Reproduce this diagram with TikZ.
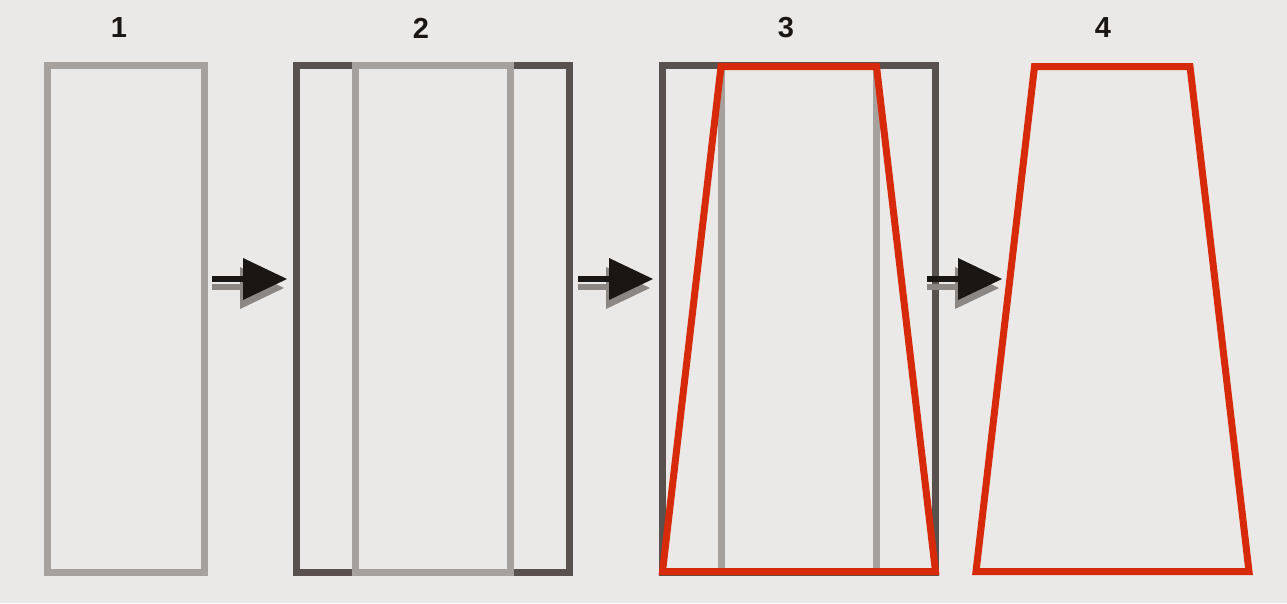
\documentclass[tikz,border=0pt]{standalone}
\usepackage{fontspec}
\setmainfont{Liberation Sans}
\definecolor{bg}{RGB}{235,233,231}
\definecolor{lightframe}{RGB}{166,161,157}
\definecolor{darkframe}{RGB}{88,81,77}
\definecolor{cutred}{RGB}{214,42,10}
\definecolor{arrowshadow}{RGB}{140,135,131}
\definecolor{ink}{RGB}{26,22,20}
\tikzset{every picture/.style = {x=1pt, y=-1pt}}
\tikzset{light/.style = {draw=lightframe, line width=7}}
\tikzset{dark/.style = {draw=darkframe, line width=7}}
\tikzset{cut/.style = {draw=cutred, line width=7}}
\tikzset{num/.style = {text=ink, font=\bfseries\fontsize{29}{29}\selectfont}}
\tikzset{shaft/.style = {line width=6.5}}
\newcommand{\steparrow}[1]{%
  \begin{scope}[shift={(#1)}]
    \draw[arrowshadow, shaft] (0, 8) -- (33, 8);
    \fill[arrowshadow] (28, -12) -- (72, 9) -- (28, 30) -- cycle;
    \draw[ink, shaft] (0, 0) -- (36, 0);
    \fill[ink] (31, -21) -- (75, 0) -- (31, 21) -- cycle;
  \end{scope}}

\begin{document}
\begin{tikzpicture}
  \fill[bg] (0, 0) rectangle (1287, 603);
  \useasboundingbox (0, 0) rectangle (1287, 603);
  % panel 1
  \draw[light] (47.5, 65.5) rectangle (204, 572.5);
  \node[num] (n1) at (119, 28) {1};
  % panel 2
  \draw[dark] (296.5, 65.5) rectangle (569.5, 572.5);
  \draw[light] (355, 65.5) rectangle (510.5, 572.5);
  \node[num] (n2) at (421, 28) {2};
  % panel 3
  \draw[dark] (662.5, 65.5) rectangle (935.5, 572.5);
  \draw[light] (721, 65.5) -- (721, 572.5);
  \draw[light] (876.5, 65.5) -- (876.5, 572.5);
  \draw[cut] (721, 66.5) -- (876.5, 66.5) -- (935.5, 571.5)
    -- (662.5, 571.5) -- cycle;
  \node[num] (n3) at (786, 28) {3};
  % panel 4
  \draw[cut] (1034.5, 66.5) -- (1190, 66.5) -- (1249, 571.5)
    -- (976, 571.5) -- cycle;
  \node[num] (n4) at (1103, 28) {4};
  % arrows
  \coordinate (a1) at (212, 279);
  \coordinate (a2) at (578, 279);
  \coordinate (a3) at (927, 279);
  \steparrow{a1}
  \steparrow{a2}
  \steparrow{a3}
\end{tikzpicture}
\end{document}
